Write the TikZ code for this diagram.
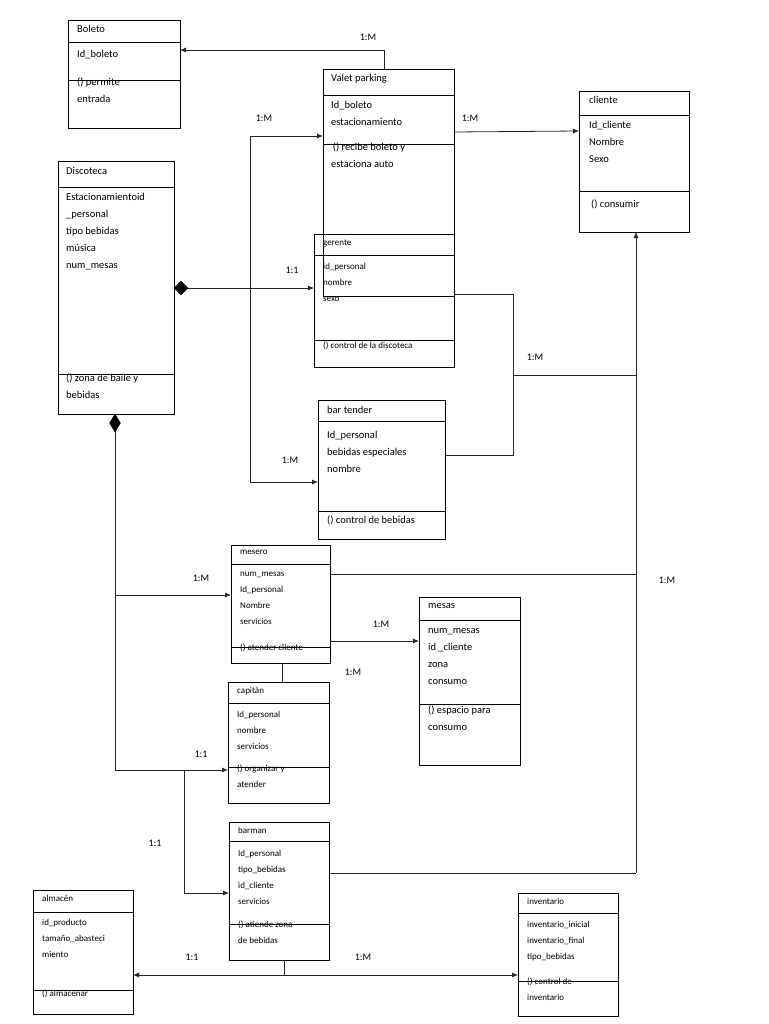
\documentclass[tikz,border=0pt]{standalone}
\usepackage{fontspec}
\setmainfont{Carlito}
\usetikzlibrary{arrows.meta,shapes.geometric}
\begin{document}
\begin{tikzpicture}[x=1pt,y=-1pt,
 box/.style={draw,line width=0.9pt},
 txt/.style={anchor=north west,align=left,inner sep=0pt,font=\fontsize{10.5}{17}\selectfont},
 stxt/.style={anchor=north west,align=left,inner sep=0pt,font=\fontsize{9}{16}\selectfont},
 lab/.style={font=\fontsize{10}{12}\selectfont,inner sep=0pt},
 con/.style={line width=0.8pt,black!85},
 arr/.style={con,-{Latex[length=6pt,width=5pt]}},
 dia/.style={draw,fill=black,diamond,minimum width=0pt,inner sep=0pt}]
\useasboundingbox (0,0) rectangle (768,1024);
\newcommand{\cls}[7]{%
 \draw[box] (#2,#3) rectangle (#4,#5);
 \draw[box] (#2,#6) -- (#4,#6);
 \draw[box] (#2,#7) -- (#4,#7);
 \coordinate (#1-nw) at (#2,#3);}
\cls{bol}{68}{20}{180}{128}{42}{80}
\cls{val}{323}{69}{454}{296}{95}{144}
\cls{cli}{579}{91}{689}{232}{115}{191}
\cls{dis}{58}{161}{174}{414}{187}{374}
\cls{ger}{314}{234}{454}{367}{255}{340}
\cls{bar}{318}{400}{445}{539}{421}{511}
\cls{mes}{231}{545}{330}{663}{564}{647}
\cls{mss}{419}{597}{520}{765}{620}{704}
\cls{cap}{228}{682}{329}{803}{703}{767}
\cls{bm}{229}{822}{329}{960}{841}{924}
\cls{alm}{33}{890}{133}{1014}{912}{990}
\cls{inv}{518}{893}{618}{1016}{913}{981}
\node[txt] (t1) at (77,25) {Boleto};
\node[txt] (t2) at (77,50) {Id\_boleto};
\node[txt] (t3) at (77,78) {() permite\\entrada};
\node[txt] (t4) at (331,74) {Valet parking};
\node[txt] (t5) at (331,101) {Id\_boleto\\estacionamiento};
\node[txt] (t6) at (331,143) {\,() recibe boleto y\\estaciona auto};
\node[txt] (t7) at (589,96) {cliente};
\node[txt] (t8) at (589,121) {Id\_cliente\\Nombre\\Sexo};
\node[txt] (t9) at (591,200) {() consumir};
\node[txt] (t10) at (66,167) {Discoteca};
\node[txt] (t11) at (66,193) {Estacionamientoid\\\_personal\\tipo bebidas\\música\\num\_mesas};
\node[txt] (t12) at (66,374) {() zona de baile y\\bebidas};
\node[stxt] (t13) at (323,240) {gerente};
\node[stxt] (t14) at (323,263) {id\_personal\\nombre\\sexo};
\node[stxt] (t15) at (323,342) {() control de la discoteca};
\node[txt] (t16) at (327,406) {bar tender};
\node[txt] (t17) at (327,431) {Id\_personal\\bebidas especiales\\nombre};
\node[txt] (t18) at (327,516) {() control de bebidas};
\node[stxt] (t19) at (240,550) {mesero};
\node[stxt] (t20) at (240,572) {num\_mesas\\Id\_personal\\Nombre\\servicios};
\node[stxt] (t21) at (240,644) {() atender cliente};
\node[txt] (t22) at (428,603) {mesas};
\node[txt] (t23) at (428,628) {num\_mesas\\id \_cliente\\zona\\consumo};
\node[txt] (t24) at (428,706) {() espacio para\\consumo};
\node[stxt] (t25) at (237,687) {capitán};
\node[stxt] (t26) at (237,711) {Id\_personal\\nombre\\servicios};
\node[stxt] (t27) at (237,765) {() organizar y\\atender};
\node[stxt] (t28) at (238,827) {barman};
\node[stxt] (t29) at (238,850) {Id\_personal\\tipo\_bebidas\\id\_cliente\\servicios};
\node[stxt] (t30) at (238,921) {() atiende zona\\de bebidas};
\node[stxt] (t31) at (42,895) {almacén};
\node[stxt] (t32) at (42,919) {id\_producto\\tamaño\_abasteci\\miento};
\node[stxt] (t33) at (42,990) {() almacenar};
\node[stxt] (t34) at (527,898) {inventario};
\node[stxt] (t35) at (527,921) {inventario\_inicial\\inventario\_final\\tipo\_bebidas};
\node[stxt] (t36) at (527,978) {() control de\\inventario};
\coordinate (valT) at (384,69); \coordinate (bolR) at (180,50);
\coordinate (valL) at (323,136); \coordinate (barL) at (318,482);
\coordinate (disR) at (174,288); \coordinate (gerL) at (314,288);
\coordinate (valR) at (454,132); \coordinate (cliL) at (579,131);
\coordinate (gerR) at (454,294); \coordinate (barR) at (445,455);
\coordinate (cliB) at (636,232); \coordinate (mesR) at (330,574);
\coordinate (bmR) at (329,873); \coordinate (disB) at (115,414);
\coordinate (mesL) at (231,595); \coordinate (capL) at (228,770);
\coordinate (bmL) at (229,893); \coordinate (mesR2) at (330,641);
\coordinate (mssL) at (419,641); \coordinate (mesB) at (282,663);
\coordinate (capT) at (282,682); \coordinate (bmB) at (284,960);
\coordinate (almR) at (133,975); \coordinate (invL) at (518,975);
\draw[arr] (valT) |- (bolR);
\draw[arr] (250,482) -- (250,136) -- (valL);
\draw[arr] (250,482) -- (barL);
\draw[arr] (valR) -- (cliL);
\draw[con] (gerR) -- (513,294) -- (513,455) -- (barR);
\draw[con] (513,375) -- (636,375);
\draw[arr] (636,873) -- (cliB);
\draw[con] (mesR) -- (636,574);
\draw[con] (bmR) -- (636,873);
\draw[con] (disB) -- (115,770);
\draw[arr] (115,595) -- (mesL);
\draw[arr] (115,770) -- (capL);
\draw[arr] (184,770) |- (bmL);
\draw[arr] (mesR2) -- (mssL);
\draw[con] (mesB) -- (capT);
\draw[con] (bmB) -- (284,975);
\draw[arr] (284,975) -- (almR);
\draw[arr] (284,975) -- (invL);
\draw[arr] (disR) -- (gerL);
\node[dia,minimum width=14pt,minimum height=14pt] (d1) at (181,288) {};
\node[dia,minimum width=11pt,minimum height=18pt] (d2) at (115,423) {};
\node[lab] (l1) at (368,37) {1:M};
\node[lab] (l2) at (264,118) {1:M};
\node[lab] (l3) at (470,118) {1:M};
\node[lab] (l4) at (292,270) {1:1};
\node[lab] (l5) at (535,357) {1:M};
\node[lab] (l6) at (290,460) {1:M};
\node[lab] (l7) at (201,578) {1:M};
\node[lab] (l8) at (667,580) {1:M};
\node[lab] (l9) at (381,624) {1:M};
\node[lab] (l10) at (353,672) {1:M};
\node[lab] (l11) at (201,754) {1:1};
\node[lab] (l12) at (155,843) {1:1};
\node[lab] (l13) at (192,957) {1:1};
\node[lab] (l14) at (363,957) {1:M};
\end{tikzpicture}
\end{document}
